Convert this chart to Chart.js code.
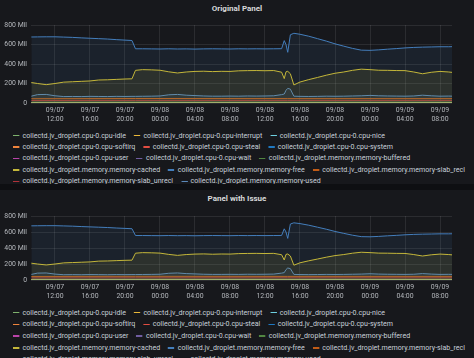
<!DOCTYPE html>
<html><head><meta charset="utf-8">
<script src="https://cdn.jsdelivr.net/npm/chart.js@4"></script>
<style>
html,body{margin:0;padding:0;background:#0e0f12;width:474px;height:358px;overflow:hidden;font-family:Roboto,sans-serif;}
.panel{position:absolute;left:0;width:474px;background:#17181c;overflow:hidden;}
.title{position:absolute;left:0;top:4px;width:474px;text-align:center;color:#d8d9da;font-weight:bold;font-size:8px;line-height:10px;}
.cw{position:absolute;left:0;width:474px;}
.legend{position:absolute;left:13px;width:440px;color:#c7d0d9;font-size:6.7px;transform:scaleX(1.06);transform-origin:0 0;}
.row{white-space:nowrap;}
.item{display:inline-block;margin-right:7.5px;}
.mk{display:inline-block;width:6px;height:1.5px;vertical-align:middle;margin-right:3px;}
</style></head>
<body>
<div class="panel" id="p1" style="top:0;height:184px;">
  <div class="title">Original Panel</div>
  <div class="cw" style="top:14px;height:111px;"><canvas id="c1"></canvas></div>
  <div class="legend" id="l1" style="top:130.5px;"></div>
</div>
<div class="panel" id="p2" style="top:190px;height:168px;">
  <div class="title">Panel with Issue</div>
  <div class="cw" style="top:15px;height:97px;"><canvas id="c2"></canvas></div>
  <div class="legend" id="l2" style="top:117.5px;"></div>
</div>
<script>
// time in hours since 09/07 00:00
const times = [9.3,10,11,12,13,14,15,16,17,18,19,20,20.8,21.2,22,23,24,25,26,27,28,29,30,31,32,33,34,35,36,37,37.9,38.2,38.4,38.6,38.9,39.3,40,41,42,43,44,45,46,47,48,49,50,51,52,53,54,55,56,57,57.4];
// values in millions
const memFree = [677,678,679,679,676,673,668,664,660,656,650,645,641,556,556,555,554,556,554,555,553,555,556,555,554,556,555,556,555,556,557,640,600,520,700,715,705,685,660,635,607,583,560,542,540,545,552,558,565,570,573,575,577,577,578];
const memCached = [210,200,188,200,214,218,222,226,236,238,242,246,248,335,342,340,336,320,308,318,324,326,322,325,324,330,332,333,331,333,316,250,320,325,300,185,215,240,262,285,305,318,335,347,342,336,335,333,332,318,300,315,324,318,314];
const memUsed = [70,86,88,74,66,67,66,68,67,66,68,67,68,68,69,70,72,84,88,80,76,72,70,70,71,70,72,71,72,74,86,92,130,150,142,70,68,67,68,70,69,70,72,74,78,74,72,71,70,72,80,74,70,71,70];
const flatTimes = [9.3,21.2,38.6,57.4];
const slabRecl = [44,46,45,45];
const slabUnrecl = [26,27,27,27];
const memBuffered = [8,9,9,9];
const cpuIdle = [0,0,0,0];
const cpuInterrupt = [0,0,0,0];
const cpuNice = [0,0,0,0];
const cpuSoftirq = [0,0,0,0];
const cpuSteal = [0,0,0,0];
const cpuSystem = [0,0,0,0];
const cpuUser = [0,0,0,0];
const cpuWait = [0,0,0,0];

const tickHours = [12,16,20,24,28,32,36,40,44,48,52,56];
const tickLabels = [["09/07","12:00"],["09/07","16:00"],["09/07","20:00"],["09/08","00:00"],["09/08","04:00"],["09/08","08:00"],["09/08","12:00"],["09/08","16:00"],["09/08","20:00"],["09/09","00:00"],["09/09","04:00"],["09/09","08:00"]];
const yTicks = [0,200,400,600,800];

const seriesNames = ["collectd.jv_droplet.cpu-0.cpu-idle","collectd.jv_droplet.cpu-0.cpu-interrupt","collectd.jv_droplet.cpu-0.cpu-nice","collectd.jv_droplet.cpu-0.cpu-softirq","collectd.jv_droplet.cpu-0.cpu-steal","collectd.jv_droplet.cpu-0.cpu-system","collectd.jv_droplet.cpu-0.cpu-user","collectd.jv_droplet.cpu-0.cpu-wait","collectd.jv_droplet.memory.memory-buffered","collectd.jv_droplet.memory.memory-cached","collectd.jv_droplet.memory.memory-free","collectd.jv_droplet.memory.memory-slab_recl","collectd.jv_droplet.memory.memory-slab_unrecl","collectd.jv_droplet.memory.memory-used"];
const seriesColors = ["#7EB26D","#EAB839","#6ED0E0","#EF843C","#E24D42","#1F78C1","#BA43A9","#705DA0","#508642","#C4B73A","#447EBC","#C15C17","#B0323A","#5A88B8"];
const seriesValues = [cpuIdle,cpuInterrupt,cpuNice,cpuSoftirq,cpuSteal,cpuSystem,cpuUser,cpuWait,memBuffered,memCached,memFree,slabRecl,slabUnrecl,memUsed];
const seriesTimes = [flatTimes,flatTimes,flatTimes,flatTimes,flatTimes,flatTimes,flatTimes,flatTimes,flatTimes,times,times,flatTimes,flatTimes,times];

function hexA(h,a){const n=parseInt(h.slice(1),16);return `rgba(${n>>16&255},${n>>8&255},${n&255},${a})`;}

function makeChart(id){
  const datasets = seriesNames.map((name,i)=>({
    label:name,
    data:seriesValues[i].map((v,j)=>({x:seriesTimes[i][j],y:v})),
    borderColor:seriesColors[i],
    backgroundColor:hexA(seriesColors[i],0.1),
    borderWidth:1,pointRadius:0,fill:'origin',tension:0
  }));
  return new Chart(document.getElementById(id),{
    type:'line',
    data:{datasets},
    options:{
      responsive:true,maintainAspectRatio:false,animation:false,
      layout:{padding:{top:11,right:22,left:0,bottom:0}},
      plugins:{legend:{display:false},tooltip:{enabled:false}},
      scales:{
        x:{type:'linear',min:9.26,max:57.37,
          afterBuildTicks:s=>{s.ticks=tickHours.map(v=>({value:v}));},
          afterFit:s=>{s.height=22;},
          grid:{color:'rgba(255,255,255,0.09)',drawTicks:false},
          border:{display:false},
          ticks:{autoSkip:false,maxRotation:0,padding:3,color:'#b4b7bc',font:{family:'Roboto',size:6.9,lineHeight:1.3},
            callback:(v)=>tickLabels[tickHours.indexOf(v)]}},
        y:{min:0,max:800,
          afterBuildTicks:s=>{s.ticks=yTicks.map(v=>({value:v}));},
          afterFit:s=>{s.width=31;},
          grid:{color:'rgba(255,255,255,0.09)',drawTicks:false},
          border:{display:false},
          ticks:{padding:4,color:'#b4b7bc',font:{family:'Roboto',size:6.9},
            callback:v=>v===0?'0':v+' Mil'}}
      }
    }
  });
}
function makeLegend(id,rowH){
  const el=document.getElementById(id);
  let html='';
  for(let r=0;r<seriesNames.length;r+=3){
    html+=`<div class="row" style="height:${rowH}px;line-height:${rowH}px">`;
    for(let i=r;i<Math.min(r+3,seriesNames.length);i++){
      html+=`<span class="item"><span class="mk" style="background:${seriesColors[i]}"></span>${seriesNames[i]}</span>`;
    }
    html+='</div>';
  }
  el.innerHTML=html;
}
makeChart('c1');makeChart('c2');
makeLegend('l1',11.4);makeLegend('l2',11.7);
</script>
</body></html>
